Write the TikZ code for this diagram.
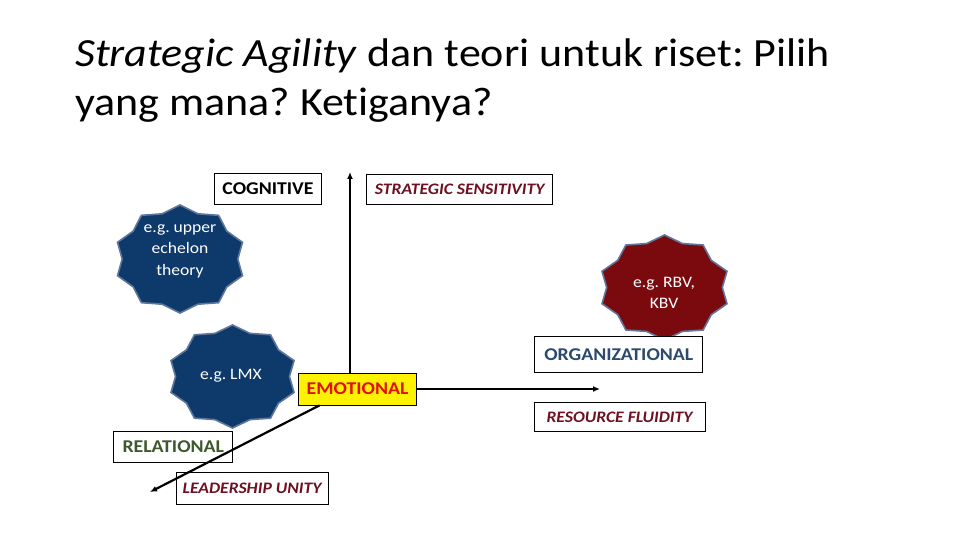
\documentclass[tikz,border=0pt]{standalone}
\usepackage{fontspec}
\setmainfont{Carlito}[FakeStretch=1.1, Ligatures=NoCommon]
\usetikzlibrary{arrows.meta,calc}
\definecolor{starblue}{HTML}{0D3A6B}
\definecolor{starred}{HTML}{7B0A0E}
\definecolor{staredge}{HTML}{60769A}
\definecolor{darkred}{HTML}{6E1020}
\definecolor{orgblue}{HTML}{2C4A6E}
\definecolor{relgreen}{HTML}{3D5A2D}
\definecolor{emored}{HTML}{E0100A}
\frenchspacing
\begin{document}
\begin{tikzpicture}[x=1pt,y=-1pt,
  box/.style={draw=black, line width=0.8pt, fill=white, inner sep=0pt,
    font=\bfseries\fontsize{18}{20}\selectfont},
  ibox/.style={box, text=darkred, font=\bfseries\itshape\fontsize{16}{18}\selectfont},
  axis/.style={line width=2.2pt, -{Latex[length=7pt,width=6pt]}},
  startext/.style={text=white, align=center, inner sep=0pt,
    font=\fontsize{16}{21.5}\selectfont},
  starline/.style={draw=staredge, line width=1.6pt},
  titletext/.style={anchor=base west, inner sep=0pt, text=black,
    font=\fontsize{40}{48}\selectfont},
  tenstar/.pic={\path[pic actions] (90:1)
      \foreach \k [evaluate=\k as \rr using {1-0.12*mod(\k,2)}] in {1,...,19}{ -- ({90+18*\k}:\rr) } -- cycle;}
]
\useasboundingbox[fill=white] (0,0) rectangle (960,540);

% title
\node[titletext] (title1) at (75,66.7) {\textit{Strategic Agility} dan teori untuk riset: Pilih};
\node[titletext] (title2) at (75,116) {yang mana? Ketiganya?};

% stars
\pic[fill=starblue, starline, xscale=65.7, yscale=54] at (180,259) {tenstar};
\node[startext] (upper) at (180,251) {e.g. upper\\echelon\\theory};
\pic[fill=starblue, starline, xscale=64.7, yscale=51.5] at (232.5,376.5) {tenstar};
\node[startext] (lmx) at (231,376) {e.g. LMX};
\pic[fill=starred, starline, xscale=65.7, yscale=52.5] at (664.5,287.5) {tenstar};
\node[startext] (rbv) at (664,293) {e.g. RBV,\\KBV};

% boxes
\node[box, minimum width=107pt, minimum height=31pt] (cog) at (268,188.7) {COGNITIVE};
\node[ibox, minimum width=186pt, minimum height=30pt] (sens) at (459.7,189) {STRATEGIC SENSITIVITY};
\node[box, fill=yellow, text=emored, minimum width=118pt, minimum height=32pt] (emo) at (357.5,389) {EMOTIONAL};
\node[box, text=orgblue, minimum width=168pt, minimum height=36pt] (org) at (618.8,354.5) {ORGANIZATIONAL};
\node[ibox, minimum width=171pt, minimum height=29pt] (fluid) at (619.5,417.3) {RESOURCE FLUIDITY};
\node[box, text=relgreen, minimum width=119pt, minimum height=31pt] (rel) at (173.3,447) {RELATIONAL};
\node[ibox, minimum width=152pt, minimum height=32pt] (lead) at (252,488) {LEADERSHIP UNITY};

% axes
\coordinate (vtop) at (350,172);
\coordinate (hend) at (600,389);
\coordinate (dend) at (150,492);
\draw[axis] (emo.north -| vtop) -- (vtop);
\draw[axis] (emo.east) -- (hend);
\draw[axis] ($(emo.south west)!0.18!(emo.south east)$) -- (dend);
\end{tikzpicture}
\end{document}
